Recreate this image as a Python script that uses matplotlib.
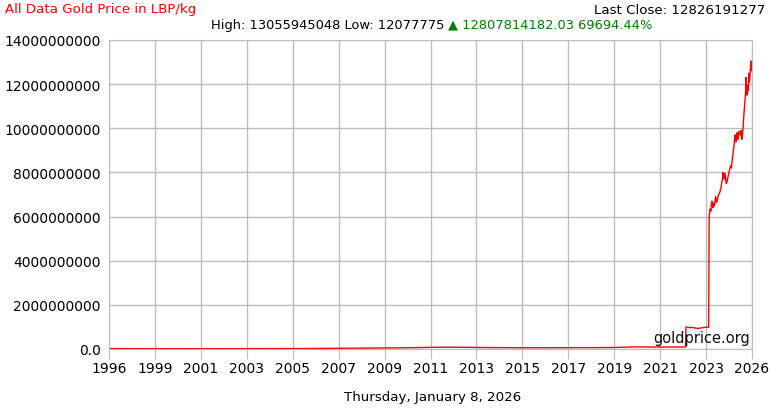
"""
Gold price in LBP/kg, all data, goldprice.org style.
"""

import numpy as np
import matplotlib
matplotlib.use("Agg")
from matplotlib import pyplot as plt

GRID = "#bdbdbd"

# chart x runs 1996 -> 2026 in 14 even steps, labels as printed on the chart
TICK_LABELS = ["1996", "1999", "2001", "2003", "2005", "2007", "2009", "2011",
               "2013", "2015", "2017", "2019", "2021", "2023", "2026"]
Y_TICKS = [0, 2e9, 4e9, 6e9, 8e9, 10e9, 12e9, 14e9]
Y_LABELS = ["0.0", "2000000000", "4000000000", "6000000000", "8000000000",
            "10000000000", "12000000000", "14000000000"]

# price history (fractional year, LBP per kg)
years = [1996.0, 1997.0, 1998.0, 1999.0, 2000.0, 2001.0, 2002.0, 2003.0, 2004.0,
         2005.0, 2006.0, 2007.0, 2008.0, 2009.0, 2010.0, 2011.0, 2011.7, 2012.5,
         2013.5, 2014.5, 2015.5, 2016.5, 2017.5, 2018.5, 2019.5, 2020.6, 2021.5,
         2022.2, 2022.9,
         2022.92, 2023.0, 2023.1, 2023.2, 2023.35, 2023.5, 2023.65, 2023.8, 2023.98,
         2024.0, 2024.03, 2024.05, 2024.08, 2024.1, 2024.13, 2024.16, 2024.18,
         2024.22, 2024.25, 2024.28, 2024.3, 2024.34, 2024.37, 2024.4,
         2024.43, 2024.47, 2024.5, 2024.55, 2024.6, 2024.63, 2024.65, 2024.68,
         2024.7, 2024.73, 2024.75, 2024.78, 2024.8, 2024.84, 2024.87, 2024.9,
         2024.95, 2025.0, 2025.04, 2025.07, 2025.12, 2025.17, 2025.21,
         2025.24, 2025.26, 2025.3, 2025.33, 2025.35, 2025.38, 2025.4, 2025.44,
         2025.48, 2025.51, 2025.53, 2025.58,
         2025.62, 2025.66, 2025.7, 2025.72, 2025.74, 2025.75, 2025.77, 2025.8,
         2025.83, 2025.86, 2025.88, 2025.89, 2025.92, 2025.95, 2025.97, 2025.98,
         2026.0]
prices = [18.8e6, 17.0e6, 14.5e6, 13.0e6, 13.5e6, 13.2e6, 15.0e6, 17.5e6, 19.5e6,
          21.5e6, 29.0e6, 33.5e6, 42.0e6, 47.0e6, 59.0e6, 76.0e6, 82.0e6, 80.0e6,
          66.0e6, 62.0e6, 56.0e6, 60.0e6, 61.0e6, 61.5e6, 68.0e6, 95.0e6, 88.0e6,
          92.0e6, 88.0e6,
          1.00e9, 0.99e9, 0.97e9, 0.98e9, 0.95e9, 0.93e9, 0.96e9, 0.98e9, 0.99e9,
          6.05e9, 6.2e9, 6.35e9, 6.25e9, 6.5e9, 6.7e9, 6.5e9, 6.4e9,
          6.6e9, 6.5e9, 6.75e9, 6.9e9, 6.65e9, 6.7e9, 6.85e9,
          6.95e9, 7.05e9, 7.1e9, 7.3e9, 7.6e9, 7.75e9, 8.0e9, 7.8e9,
          7.7e9, 7.95e9, 7.9e9, 7.6e9, 7.5e9, 7.6e9, 7.75e9, 7.9e9,
          8.1e9, 8.3e9, 8.2e9, 8.5e9, 8.9e9, 9.3e9, 9.7e9,
          9.45e9, 9.4e9, 9.8e9, 9.6e9, 9.5e9, 9.85e9, 9.75e9, 9.7e9,
          9.9e9, 9.6e9, 9.5e9, 10.0e9,
          10.6e9, 11.1e9, 11.6e9, 12.3e9, 11.8e9, 12.0e9, 11.5e9, 11.9e9,
          11.7e9, 12.5e9, 12.1e9, 12.2e9, 12.6e9, 13.05e9, 12.6e9, 12.7e9,
          12.83e9]

fig = plt.figure(figsize=(7.7, 4.1), dpi=100)
ax = fig.add_axes([109 / 770, 60 / 410, 643 / 770, 309 / 410])

ax.plot(years, prices, color="red", lw=1.0)

ax.set_xlim(1996, 2026)
ax.set_ylim(0, 14e9)
ax.set_xticks(np.linspace(1996, 2026, 15))
ax.set_xticklabels(TICK_LABELS)
ax.set_yticks(Y_TICKS)
ax.set_yticklabels(Y_LABELS)
ax.grid(True, color=GRID, lw=1.0)
ax.set_axisbelow(True)
for s in ax.spines.values():
    s.set_color(GRID)
ax.tick_params(axis="x", length=7, color=GRID, labelsize=10, pad=2)
ax.tick_params(axis="y", length=0, labelsize=10, pad=6)

ax.text(0.997, 0.012, "goldprice.org", transform=ax.transAxes,
        ha="right", va="bottom", fontsize=10.5, color="#111111")

# header texts
fig.text(5 / 770, 1 - 10 / 410, "All Data Gold Price in LBP/kg", color="red",
         fontsize=9.6, ha="left", va="center")
fig.text(765 / 770, 1 - 11 / 410, "Last Close: 12826191277", color="black",
         fontsize=9.6, ha="right", va="center")
t = fig.text(211 / 770, 1 - 25 / 410, "High: 13055945048 Low: 12077775 ",
             color="black", fontsize=9.4, ha="left", va="center")
fig.canvas.draw()
bb = t.get_window_extent()
fig.text(bb.x1 / 770, 1 - 25 / 410,
         "\u25B2 12807814182.03 69694.44%", color="green",
         fontsize=9.4, ha="left", va="center")

fig.text(433 / 770, 1 - 398 / 410, "Thursday, January 8, 2026", color="black",
         fontsize=9.6, ha="center", va="center")

fig.savefig("out.png", dpi=100)
